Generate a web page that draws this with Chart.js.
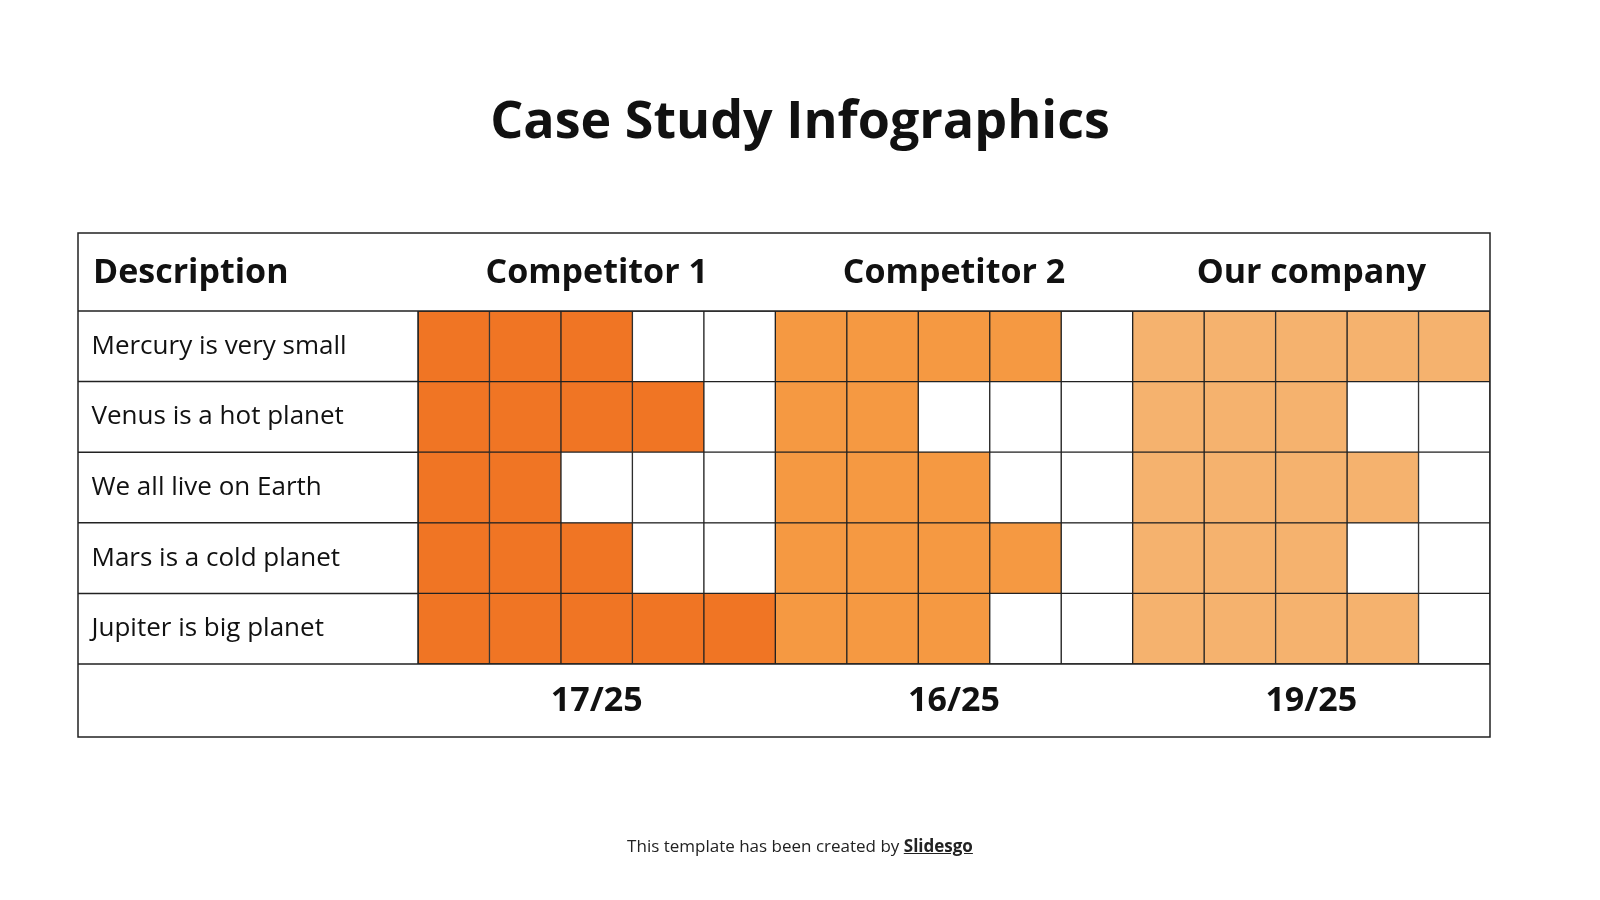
<!DOCTYPE html>
<html lang="en">
<head>
<meta charset="UTF-8">
<title>Case Study Infographics</title>
<script src="https://cdn.jsdelivr.net/npm/chart.js"></script>
<style>
  body { margin: 0; width: 1600px; height: 900px; background: #fff; font-family: "Open Sans", sans-serif; position: relative; overflow: hidden; }
  h1 { position: absolute; top: 82px; width: 100%; margin: 0; text-align: center; font-size: 52px; font-weight: 700; color: #111; }
  #wrap { position: absolute; left: 0; top: 0; width: 1600px; height: 900px; }
  .footer { position: absolute; top: 834px; width: 100%; text-align: center; font-size: 17px; color: #222; }
  .footer b { text-decoration: underline; }
</style>
</head>
<body>
<h1>Case Study Infographics</h1>
<div id="wrap"><canvas id="grid"></canvas></div>
<div class="footer">This template has been created by <b>Slidesgo</b></div>
<script>
const rows = ['Mercury is very small', 'Venus is a hot planet', 'We all live on Earth', 'Mars is a cold planet', 'Jupiter is big planet'];
const groups = ['Competitor 1', 'Competitor 2', 'Our company'];
const groupColors = ['#F07524', '#F59942', '#F5B26E'];
const filled = [
  [3, 4, 2, 3, 5],
  [4, 2, 3, 4, 3],
  [5, 3, 4, 3, 4]
];
const cellsPerGroup = 5;

const datasets = [];
groups.forEach((g, gi) => {
  for (let c = 0; c < cellsPerGroup; c++) {
    const start = gi * cellsPerGroup + c;
    datasets.push({
      label: g + ' ' + (c + 1),
      data: rows.map(() => [start, start + 1]),
      backgroundColor: filled[gi].map(n => c < n ? groupColors[gi] : '#ffffff'),
      borderColor: '#222',
      borderWidth: 1,
      borderSkipped: false,
      grouped: false
    });
  }
});

const tableFrame = {
  id: 'tableFrame',
  afterDraw(chart) {
    const { ctx, chartArea: a, scales: { x, y } } = chart;
    const left = 78, top = 233, bottom = 737;
    ctx.save();
    ctx.strokeStyle = '#222';
    ctx.lineWidth = 1.5;
    ctx.strokeRect(left, top, a.right - left, bottom - top);
    ctx.beginPath();
    ctx.moveTo(left, a.top); ctx.lineTo(a.right, a.top);
    ctx.moveTo(left, a.bottom); ctx.lineTo(a.right, a.bottom);
    ctx.moveTo(a.left, a.top); ctx.lineTo(a.left, a.bottom);
    const rowH = (a.bottom - a.top) / rows.length;
    for (let i = 1; i < rows.length; i++) {
      ctx.moveTo(left, a.top + rowH * i); ctx.lineTo(a.left, a.top + rowH * i);
    }
    ctx.stroke();
    ctx.fillStyle = '#111';
    ctx.font = '700 34px "Open Sans", sans-serif';
    ctx.textBaseline = 'middle';
    ctx.textAlign = 'left';
    ctx.fillText('Description', 93, 273);
    ctx.textAlign = 'center';
    groups.forEach((g, gi) => {
      const cx = x.getPixelForValue(gi * cellsPerGroup + cellsPerGroup / 2);
      ctx.fillText(g, cx, 273);
      const total = filled[gi].reduce((s, v) => s + v, 0);
      ctx.fillText(total + '/' + rows.length * cellsPerGroup, cx, 701);
    });
    ctx.restore();
  }
};

new Chart(document.getElementById('grid'), {
  type: 'bar',
  data: { labels: rows, datasets },
  plugins: [tableFrame],
  options: {
    indexAxis: 'y',
    responsive: true,
    maintainAspectRatio: false,
    animation: false,
    barPercentage: 1,
    categoryPercentage: 1,
    layout: { padding: { left: 78, right: 110, top: 311, bottom: 236 } },
    plugins: { legend: { display: false }, tooltip: { enabled: false } },
    scales: {
      x: { type: 'linear', min: 0, max: groups.length * cellsPerGroup, display: false },
      y: {
        grid: { display: false },
        border: { display: false },
        afterFit(s) { s.width = 340; },
        ticks: { crossAlign: 'far', padding: 0, color: '#111', font: { family: 'Open Sans', size: 26 },
                 callback(v) { return '  ' + this.getLabelForValue(v); } }
      }
    }
  }
});
</script>
</body>
</html>
